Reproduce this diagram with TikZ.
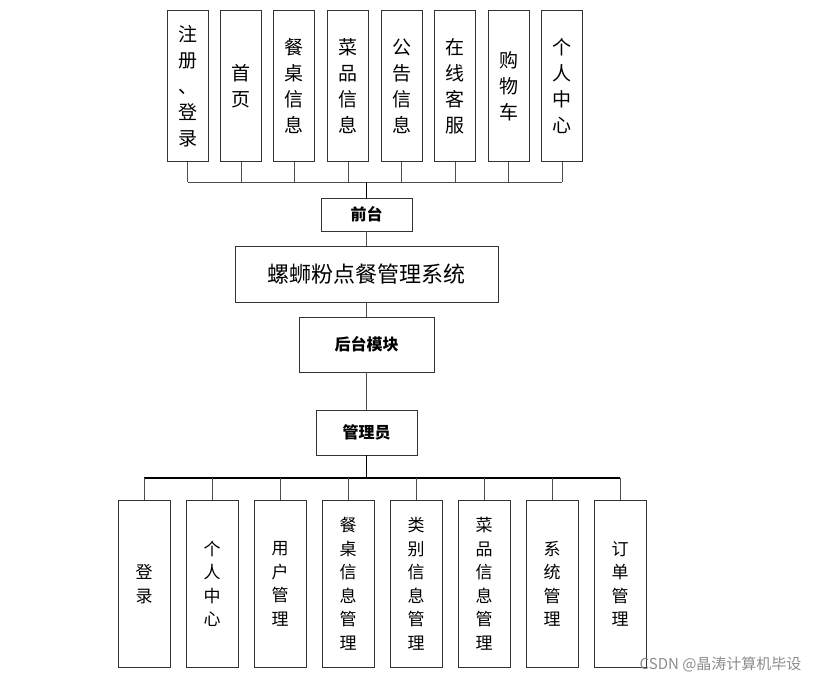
\documentclass[tikz,border=0pt]{standalone}
\usepackage{fontspec}
\newfontfamily\cjk{Noto Sans CJK SC}
\begin{document}
\begin{tikzpicture}[x=1pt,y=-1pt,
 box/.style={draw=black!80,line width=0.8pt,inner sep=0pt,font=\cjk,align=center},
 ln/.style={draw=black!70,line width=0.8pt},
 trunk/.style={draw=black,line width=1.5pt}]
\useasboundingbox (0,0) rectangle (818,684);
\foreach \n/\x/\t in {a/187.5/注\\册\\、\\登\\录, b/241/首\\页, c/294/餐\\桌\\信\\息, d/348/菜\\品\\信\\息, e/401.5/公\\告\\信\\息, f/455/在\\线\\客\\服, g/508.5/购\\物\\车, h/562/个\\人\\中\\心}{
 \node[box,minimum width=41,minimum height=151,font=\cjk\fontsize{19}{26}\selectfont,anchor=north] (t\n) at (\x,10) {\t};
 \draw[ln] (t\n.south) -- (\x,182);
}
\draw[ln] (187.5,182) -- (562,182);
\node[box,minimum width=91,minimum height=33,font=\cjk\bfseries\fontsize{16}{18}\selectfont] (qt) at (366.5,214.5) {前台};
\coordinate (bt) at (366.5,182);
\draw[trunk] (bt) -- (qt.north);
\node[box,minimum width=263,minimum height=56,font=\cjk\fontsize{22}{24}\selectfont] (sys) at (366.5,274) {螺蛳粉点餐管理系统};
\node[box,minimum width=135,minimum height=55,font=\cjk\bfseries\fontsize{16}{18}\selectfont] (ht) at (366.5,344.5) {后台模块};
\node[box,minimum width=101,minimum height=45,font=\cjk\bfseries\fontsize{16}{18}\selectfont] (gl) at (366.5,432.5) {管理员};
\draw[ln] (qt) -- (sys);
\draw[ln] (sys) -- (ht);
\draw[ln] (ht) -- (gl);
\coordinate (bb) at (366.5,478);
\draw[trunk] (gl.south) -- (bb);
\draw[trunk] (144,478) -- (620,478);
\foreach \n/\x/\t in {a/144/登\\录, b/212/个\\人\\中\\心, c/280/用\\户\\管\\理, d/348/餐\\桌\\信\\息\\管\\理, e/416/类\\别\\信\\息\\管\\理, f/484/菜\\品\\信\\息\\管\\理, g/552/系\\统\\管\\理, h/620/订\\单\\管\\理}{
 \node[box,minimum width=52,minimum height=167,font=\cjk\fontsize{17}{23.5}\selectfont,anchor=north] (b\n) at (\x,500) {\t};
 \draw[ln] (\x,478) -- (b\n.north);
}
\node[font=\cjk\fontsize{15}{17}\selectfont,text=black!45,anchor=east] (wm) at (805,664) {CSDN @晶涛计算机毕设};
\end{tikzpicture}
\end{document}
